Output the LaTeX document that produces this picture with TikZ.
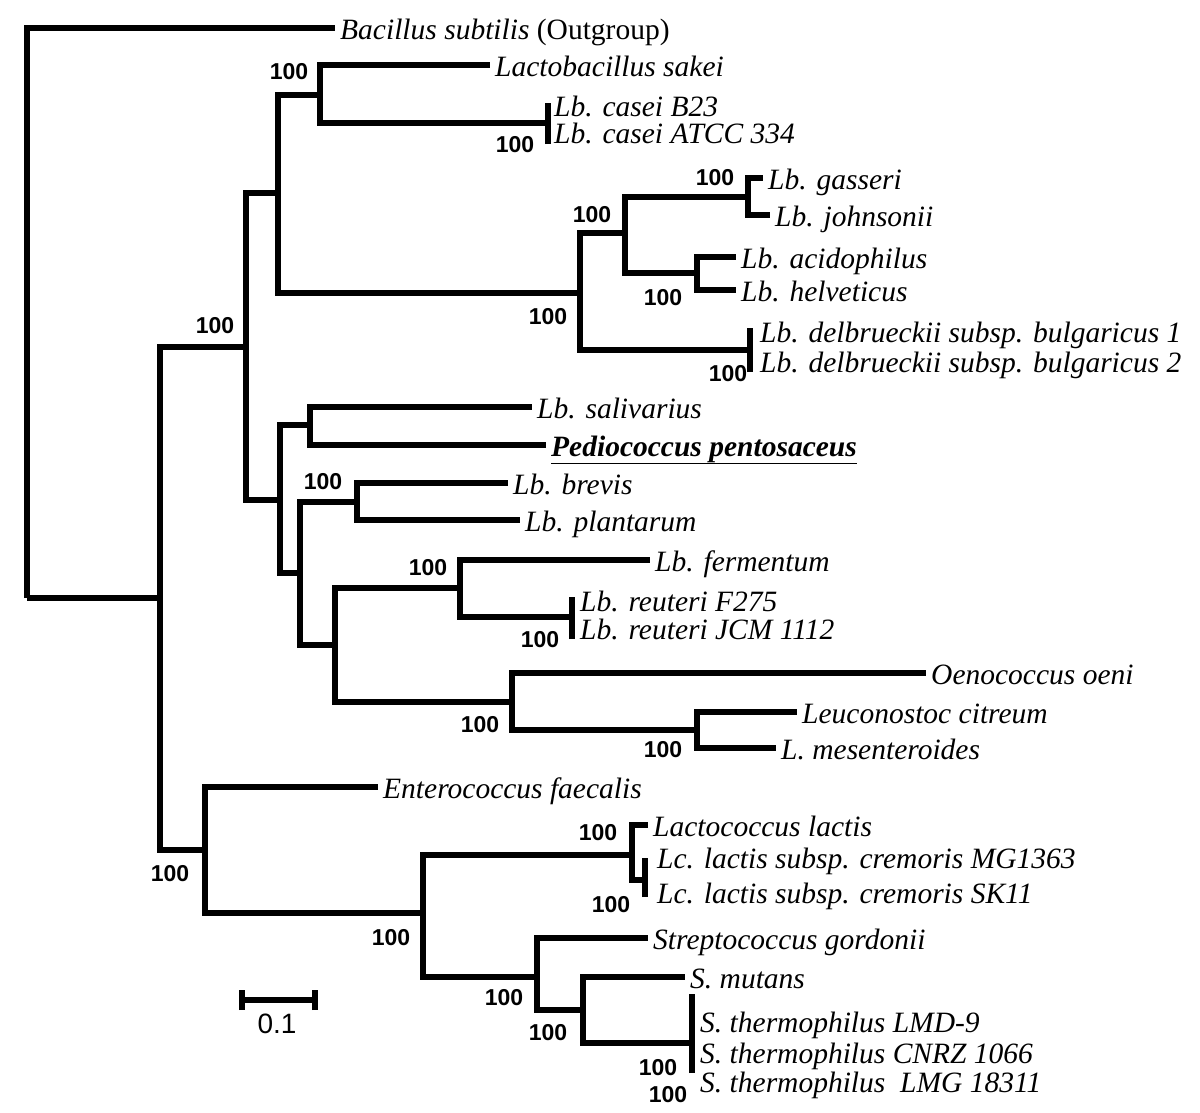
\documentclass[tikz,border=0pt]{standalone}
\usepackage{fontspec}
\setmainfont{Liberation Serif}
\newfontfamily\supfont{Liberation Sans}
\usepackage{tikz}
\usetikzlibrary{positioning}

\begin{document}
\begin{tikzpicture}[x=1pt,y=-1pt,
    branch/.style={line width=5.5pt,line join=miter},
    taxon/.style={anchor=west,inner xsep=5pt,inner ysep=0pt,text height=23.5pt,text depth=1.5pt,font=\fontsize{29.5}{32}\selectfont\itshape},
    boot/.style={inner sep=0pt,font=\supfont\bfseries\fontsize{23}{25}\selectfont}]

    \useasboundingbox (0,0) rectangle (1200,1112);

    % internal nodes
    \coordinate (root) at (27,598);
    \coordinate (n1) at (160,598);
    \coordinate (nA) at (246,347);
    \coordinate (nB) at (278,193);
    \coordinate (nC) at (320,95);
    \coordinate (cas) at (548,123);
    \coordinate (nD) at (580,293);
    \coordinate (nE) at (625,233);
    \coordinate (nF) at (748,197);
    \coordinate (nG) at (697,273);
    \coordinate (del) at (750,350);
    \coordinate (nI) at (280,500);
    \coordinate (nJ) at (310,425);
    \coordinate (nK) at (300,573);
    \coordinate (nL) at (357,502);
    \coordinate (nM) at (335,645);
    \coordinate (nN) at (460,588);
    \coordinate (reu) at (572,617);
    \coordinate (nO) at (512,702);
    \coordinate (nP) at (697,730);
    \coordinate (nQ) at (205,850);
    \coordinate (nR) at (423,913);
    \coordinate (nLc) at (632,855);
    \coordinate (lcc) at (645,880);
    \coordinate (nS) at (537,977);
    \coordinate (nT) at (583,1010);
    \coordinate (sth) at (692,1043);

    % taxa
    \node[taxon] (bac) at (335,28) {Bacillus subtilis \textup{(Outgroup)}};
    \node[taxon] (sakei) at (490,65) {Lactobacillus sakei};
    \node[taxon] (casB) at (549,105) {Lb. casei B23};
    \node[taxon] (casA) at (549,132) {Lb. casei ATCC 334};
    \node[taxon] (gas) at (763,178) {Lb. gasseri};
    \node[taxon] (joh) at (770,215) {Lb. johnsonii};
    \node[taxon] (aci) at (736,257) {Lb. acidophilus};
    \node[taxon] (hel) at (736,290) {Lb. helveticus};
    \node[taxon] (del1) at (755,331) {Lb. delbrueckii subsp. bulgaricus 1};
    \node[taxon] (del2) at (755,361) {Lb. delbrueckii subsp. bulgaricus 2};
    \node[taxon] (sal) at (532,407) {Lb. salivarius};
    \node[taxon] (ped) at (546,445) {\textbf{\underline{Pediococcus pentosaceus}}};
    \node[taxon] (bre) at (508,483) {Lb. brevis};
    \node[taxon] (pla) at (520,520) {Lb. plantarum};
    \node[taxon] (fer) at (650,560) {Lb. fermentum};
    \node[taxon] (reuF) at (575,600) {Lb. reuteri F275};
    \node[taxon] (reuJ) at (575,628) {Lb. reuteri JCM 1112};
    \node[taxon] (oen) at (926,673) {Oenococcus oeni};
    \node[taxon] (leu) at (797,712) {Leuconostoc citreum};
    \node[taxon] (mes) at (776,748) {L. mesenteroides};
    \node[taxon] (ent) at (378,787) {Enterococcus faecalis};
    \node[taxon] (lac) at (648,825) {Lactococcus lactis};
    \node[taxon] (lcM) at (652,857) {Lc. lactis subsp. cremoris MG1363};
    \node[taxon] (lcS) at (652,892) {Lc. lactis subsp. cremoris SK11};
    \node[taxon] (gor) at (648,938) {Streptococcus gordonii};
    \node[taxon] (mut) at (685,977) {S. mutans};
    \node[taxon] (stL) at (695,1021) {S. thermophilus LMD-9};
    \node[taxon] (stC) at (695,1052) {S. thermophilus CNRZ 1066};
    \node[taxon] (stG) at (695,1081) {S. thermophilus\ \ LMG 18311};

    % branches
    \draw[branch] (root) |- (bac.west);
    \draw[branch] (root) -- (n1);
    \draw[branch] (n1) |- (nA);
    \draw[branch] (n1) |- (nQ);
    \draw[branch] (nA) |- (nB);
    \draw[branch] (nA) |- (nI);
    \draw[branch] (nB) |- (nC);
    \draw[branch] (nB) |- (nD);
    \draw[branch] (nC) |- (sakei.west);
    \draw[branch] (nC) |- (cas);
    \draw[branch] (nD) |- (nE);
    \draw[branch] (nD) |- (del);
    \draw[branch] (nE) |- (nF);
    \draw[branch] (nE) |- (nG);
    \draw[branch] (nF) |- (gas.west);
    \draw[branch] (nF) |- (joh.west);
    \draw[branch] (nG) |- (aci.west);
    \draw[branch] (nG) |- (hel.west);
    \draw[branch] (nI) |- (nJ);
    \draw[branch] (nI) |- (nK);
    \draw[branch] (nJ) |- (sal.west);
    \draw[branch] (nJ) |- (ped.west);
    \draw[branch] (nK) |- (nL);
    \draw[branch] (nK) |- (nM);
    \draw[branch] (nL) |- (bre.west);
    \draw[branch] (nL) |- (pla.west);
    \draw[branch] (nM) |- (nN);
    \draw[branch] (nM) |- (nO);
    \draw[branch] (nN) |- (fer.west);
    \draw[branch] (nN) |- (reu);
    \draw[branch] (nO) |- (oen.west);
    \draw[branch] (nO) |- (nP);
    \draw[branch] (nP) |- (leu.west);
    \draw[branch] (nP) |- (mes.west);
    \draw[branch] (nQ) |- (ent.west);
    \draw[branch] (nQ) |- (nR);
    \draw[branch] (nR) |- (nLc);
    \draw[branch] (nR) |- (nS);
    \draw[branch] (nLc) |- (lac.west);
    \draw[branch] (nLc) |- (lcc);
    \draw[branch] (nS) |- (gor.west);
    \draw[branch] (nS) |- (nT);
    \draw[branch] (nT) |- (mut.west);
    \draw[branch] (nT) |- (sth);

    % short ticks for near-identical strains
    \draw[branch] ([yshift=-21pt]cas) -- ([yshift=20pt]cas);
    \draw[branch] ([yshift=-22pt]del) -- ([yshift=22pt]del);
    \draw[branch] ([yshift=-22pt]reu) -- ([yshift=20pt]reu);
    \draw[branch] ([yshift=-17pt]lcc) -- ([yshift=22pt]lcc);
    \draw[branch] ([yshift=-30pt]sth) -- ([yshift=49pt]sth);

    % bootstrap values
    \node[boot] (bA) at (215,326) {100};
    \node[boot] (bC) at (289,72) {100};
    \node[boot] (bcas) at (515,145) {100};
    \node[boot] (bE) at (592,215) {100};
    \node[boot] (bD) at (548,317) {100};
    \node[boot] (bF) at (715,178) {100};
    \node[boot] (bG) at (663,298) {100};
    \node[boot] (bdel) at (728,374) {100};
    \node[boot] (bL) at (323,482) {100};
    \node[boot] (bN) at (428,568) {100};
    \node[boot] (breu) at (540,640) {100};
    \node[boot] (bO) at (480,725) {100};
    \node[boot] (bP) at (663,750) {100};
    \node[boot] (bQ) at (170,874) {100};
    \node[boot] (bR) at (391,938) {100};
    \node[boot] (bLc) at (598,833) {100};
    \node[boot] (blcc) at (611,905) {100};
    \node[boot] (bS) at (504,998) {100};
    \node[boot] (bT) at (548,1033) {100};
    \node[boot] (bsth) at (658,1068) {100};
    \node[boot] (bsth2) at (668,1095) {100};

    % scale bar
    \coordinate (sbL) at (242,1000);
    \coordinate (sbR) at (315,1000);
    \draw[branch] (sbL) -- (sbR);
    \draw[branch] ([yshift=-10pt]sbL) -- ([yshift=10pt]sbL);
    \draw[branch] ([yshift=-10pt]sbR) -- ([yshift=10pt]sbR);
    \node[inner sep=0pt,font=\supfont\fontsize{28}{30}\selectfont] (sbtext) at (277,1024) {0.1};
\end{tikzpicture}
\end{document}
